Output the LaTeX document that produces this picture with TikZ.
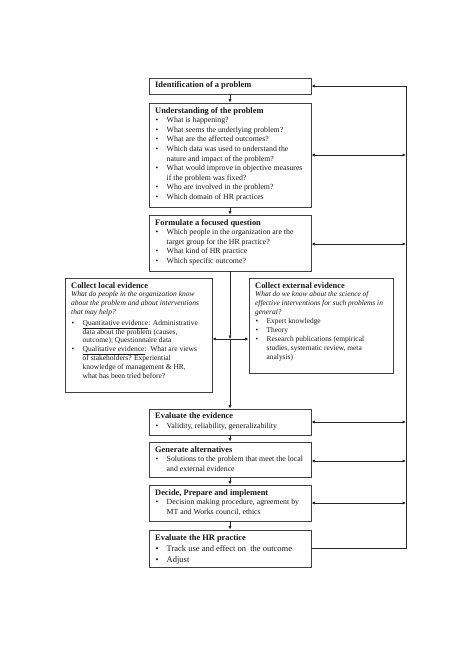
\documentclass[tikz,border=0pt]{standalone}
\usepackage{fontspec}
\setmainfont{Liberation Serif}
\usetikzlibrary{arrows.meta}
\newcommand{\bul}{\makebox[11.5pt][l]{\hspace{0.5pt}\textbullet}}
\newcommand{\ind}{\hspace*{11.5pt}}
\newcommand{\ttl}[1]{{\fontsize{8.4}{9.6}\selectfont\bfseries #1}}
\tikzset{
  box/.style={draw=black!75, line width=0.9pt, minimum width=162pt, inner sep=0pt},
  txt/.style={anchor=north west, inner sep=0pt, align=left, font=\fontsize{7.8}{9.6}\selectfont, text=black!90},
  conn/.style={draw=black!85, line width=0.7pt},
  tip/.style={-{Latex[length=3.5pt,width=3.2pt]}},
  dtip/.style={{Latex[length=3.5pt,width=3.2pt]}-{Latex[length=3.5pt,width=3.2pt]}}
}
\begin{document}
\begin{tikzpicture}[x=1pt,y=-1pt]
\useasboundingbox (0,0) rectangle (474,668);
\fill[white] (0,0) rectangle (474,668);

% boxes
\node[box, minimum height=16pt] (b1) at (230,86) {};
\node[box, minimum height=104pt] (b2) at (230,155) {};
\node[box, minimum height=56pt] (b3) at (230,243) {};
\node[box, minimum width=147pt, minimum height=114pt] (loc) at (138.5,335) {};
\node[box, minimum width=144pt, minimum height=95pt] (ext) at (321,325.5) {};
\node[box, minimum height=26pt] (ev) at (230,422) {};
\node[box, minimum height=35pt] (gen) at (230,459.5) {};
\node[box, minimum height=36pt] (dec) at (230,503) {};
\node[box, minimum height=37pt] (hr) at (230,548.5) {};

% texts
\node[txt] (t1) at (155,81.5) {\ttl{Identification of a problem}};
\node[txt] (t2) at (155,107) {\ttl{Understanding of the problem}\\
\bul What is happening?\\
\bul What seems the underlying problem?\\
\bul What are the affected outcomes?\\
\bul Which data was used to understand the\\
\ind nature and impact of the problem?\\
\bul What would improve in objective measures\\
\ind if the problem was fixed?\\
\bul Who are involved in the problem?\\
\bul Which domain of HR practices};
\node[txt] (t3) at (155,219) {\ttl{Formulate a focused question}\\
\bul Which people in the organization are the\\
\ind target group for the HR practice?\\
\bul What kind of HR practice\\
\bul Which specific outcome?};
\node[txt, font=\fontsize{7.5}{8.9}\selectfont] (tl) at (71,282) {\ttl{Collect local evidence}\\
\textit{What do people in the organization know}\\
\textit{about the problem and about interventions}\\
\textit{that may help?}\\[1.5pt]
\bul \underline{Quantitative evidence}: Administrative\\
\ind data about the problem (causes,\\
\ind outcome); Questionnaire data\\
\bul \underline{Qualitative evidence}:\ \ What are views\\
\ind of stakeholders? Experiential\\
\ind knowledge of management \& HR,\\
\ind what has been tried before?};
\node[txt, font=\fontsize{7.4}{8.9}\selectfont] (te) at (255,282) {\ttl{Collect external evidence}\\
\textit{What do we know about the science of}\\
\textit{effective interventions for such problems in}\\
\textit{general?}\\
\bul Expert knowledge\\
\bul Theory\\
\bul Research publications (empirical\\
\ind studies, systematic review, meta\\
\ind analysis)};
\node[txt] (tev) at (155,412.5) {\ttl{Evaluate the evidence}\\
\bul Validity, reliability, generalizability};
\node[txt] (tgen) at (155,446) {\ttl{Generate alternatives}\\
\bul Solutions to the problem that meet the local\\
\ind and external evidence};
\node[txt] (tdec) at (155,489) {\ttl{Decide, Prepare and implement}\\
\bul Decision making procedure, agreement by\\
\ind MT and Works council, ethics};
\node[txt, font=\fontsize{8.5}{11}\selectfont] (thr) at (155,534) {\ttl{Evaluate the HR practice}\\
\bul Track use and effect on\ \ the outcome\\
\bul Adjust};

% connectors
\coordinate (J) at (230,339);
\coordinate (R) at (406,86);
\draw[conn,tip] (b1) -- (b2);
\draw[conn,tip] (b2) -- (b3);
\draw[conn,tip] (b3.south) -- (J);
\draw[conn,tip] (J) -- (ev.north);
\draw[conn,tip] (J) -- (J -| loc.east);
\draw[conn,tip] (J) -- (J -| ext.west);
\draw[conn,tip] (ev) -- (gen);
\draw[conn,tip] (gen) -- (dec);
\draw[conn,tip] (dec) -- (hr);
\draw[conn,tip] (hr.east) -- (hr.east -| R) -- (R) -- (b1.east);
\draw[conn,dtip] (b2.east) -- (b2.east -| R);
\draw[conn,dtip] ([yshift=-1pt]b3.east) -- ([yshift=-1pt]b3.east -| R);
\draw[conn,dtip] (ev.east) -- (ev.east -| R);
\draw[conn,dtip] ([yshift=-1.5pt]gen.east) -- ([yshift=-1.5pt]gen.east -| R);
\draw[conn,dtip] (dec.east) -- (dec.east -| R);
\end{tikzpicture}
\end{document}
